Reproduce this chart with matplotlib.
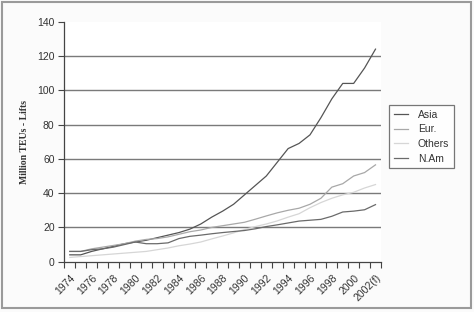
#!/usr/bin/env python3
"""
Container port throughput by region, 1974-2002(f).
"""
import matplotlib
matplotlib.use('Agg')
import matplotlib.pyplot as plt
from matplotlib.patches import Rectangle
import numpy as np

years = [str(y) for y in range(1974, 2002)] + ['2002(f)']
tick_labels = [y if i % 2 == 0 else '' for i, y in enumerate(years)]

asia = [4, 4, 6, 7.5, 9, 10.5, 11.5, 12.5, 14, 15.5, 17, 19, 22, 26,
        29.5, 33.5, 39, 44.5, 50, 58, 66, 69, 74, 84, 95, 104, 104, 113, 124]
eur = [6, 6, 7.5, 8.5, 9.5, 10.5, 12, 13, 13.5, 14.5, 16, 17.5, 18.5, 20,
       21, 22, 23, 24.8, 26.7, 28.5, 30, 31.2, 33.5, 37, 43.5, 45.5, 50, 52, 56.5]
others = [2.5, 3, 3.5, 4, 4.5, 5, 5.5, 6, 7, 8, 9.3, 10.3, 11.5, 13.3,
          15, 16.8, 18.8, 20.5, 22, 23.8, 26, 28, 31.5, 34.5, 37, 39, 40.5, 43, 45]
n_am = [6, 6, 7, 7.5, 8.5, 10, 11.5, 10.5, 10.5, 11, 13.5, 14.8, 15.5, 16.3,
        17, 17.6, 18.2, 19.2, 20.5, 21.5, 22.6, 23.7, 24.2, 24.7, 26.5, 29, 29.5, 30.3, 33.3]

series = [('Asia', asia, '#555555'),
          ('Eur.', eur, '#a8a8a8'),
          ('Others', others, '#d6d6d6'),
          ('N.Am', n_am, '#6a6a6a')]

plt.rcParams['font.family'] = ['Liberation Sans', 'DejaVu Sans']

fig = plt.figure(figsize=(4.74, 3.12), dpi=100)
fig.patch.set_facecolor('#fbfbfb')
fig.patches.append(Rectangle((0.004, 0.012), 0.99, 0.98, transform=fig.transFigure,
                             fill=False, edgecolor='#9a9a9a', linewidth=1.5))
ax = fig.add_axes([0.1357, 0.1612, 0.668, 0.7692])
ax.set_facecolor('white')

x = np.arange(len(years))
for name, vals, color in series:
    ax.plot(x, vals, color=color, linewidth=0.9, label=name)

ax.set_xlim(-0.5, len(years) - 0.5)
ax.set_ylim(0, 140)
ax.set_yticks(range(0, 141, 20))
for v in range(20, 121, 20):
    ax.axhline(v, color='#7a7a7a', linewidth=1.0, zorder=0)

# ticks between categories, labels at category centres
ax.set_xticks(np.arange(-0.5, len(years), 1.0))
ax.set_xticklabels([])
ax.set_xticks(x, minor=True)
ax.set_xticklabels(tick_labels, minor=True, rotation=45, ha='right', va='top',
                   rotation_mode='anchor', fontsize=7.5, color='#333333')
ax.tick_params(axis='x', which='minor', length=0, pad=8)
ax.tick_params(axis='x', which='major', length=4, direction='out', color='#444444')
ax.tick_params(axis='y', length=4, direction='out', color='#444444',
               labelsize=7.5, labelcolor='#333333', pad=3)

for side in ['top', 'right']:
    ax.spines[side].set_visible(False)
for side in ['left', 'bottom']:
    ax.spines[side].set_color('#444444')
    ax.spines[side].set_linewidth(0.9)

ax.set_ylabel('Million TEUs - Lifts', family='Liberation Serif', fontweight='bold',
              fontsize=7, color='#333333')
ax.yaxis.set_label_coords(-0.11, 0.5)

leg = ax.legend(loc='upper left', bbox_to_anchor=(0.8207, 0.6635),
                bbox_transform=fig.transFigure, fontsize=7.5, frameon=True,
                fancybox=False, handlelength=1.4, borderpad=0.45,
                labelspacing=0.45, handletextpad=0.9, borderaxespad=0)
leg.get_frame().set_edgecolor('#555555')
leg.get_frame().set_linewidth(0.9)
for t in leg.get_texts():
    t.set_color('#333333')

fig.savefig('out.png', dpi=100, facecolor=fig.get_facecolor())
